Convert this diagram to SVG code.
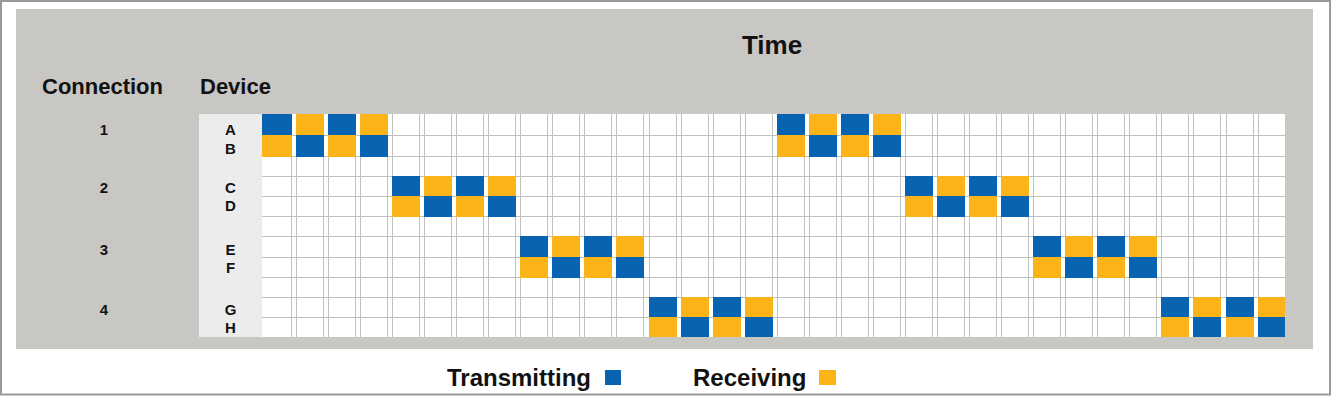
<svg xmlns="http://www.w3.org/2000/svg" width="1331" height="397" viewBox="0 0 1331 397">
<style>
text{font-family:"Liberation Sans",Arial,sans-serif;font-weight:bold;fill:#121212}
.hd{font-size:22px}
.lb{font-size:15px;text-anchor:middle}
.lg{font-size:24px}
.t{fill:#0864b1}
.r{fill:#fbb417}
.gl{stroke:#bfbfbf;stroke-width:1;fill:none}
</style>
<rect x="0" y="0" width="1331" height="397" fill="#ffffff"/>
<rect x="1" y="1" width="1329" height="393.5" fill="none" stroke="#9a9a9a" stroke-width="2"/>
<rect id="panel" x="16" y="9" width="1297" height="340" fill="#c9c7c3"/>
<g id="headers">
<text x="772" y="54" style="font-size:26px" text-anchor="middle">Time</text>
<text class="hd" x="42" y="94">Connection</text>
<text class="hd" x="200" y="94">Device</text>
</g>
<rect id="device-column" x="199" y="114" width="63" height="223" fill="#ececec"/>
<rect id="grid-bg" x="262" y="114" width="1023" height="223" fill="#ffffff"/>
<g id="grid-lines" class="gl">
<path d="M262 135.5H1285M262 156.5H1285M262 176.5H1285M262 196.5H1285M262 216.5H1285M262 236.5H1285M262 257.5H1285M262 277.5H1285M262 297.5H1285M262 317.5H1285"/>
<path d="M291.5 114V337M296.5 114V337M323.5 114V337M328.5 114V337M355.5 114V337M360.5 114V337M387.5 114V337M392.5 114V337M419.5 114V337M424.5 114V337M451.5 114V337M456.5 114V337M483.5 114V337M488.5 114V337M515.5 114V337M520.5 114V337M547.5 114V337M552.5 114V337M579.5 114V337M584.5 114V337M611.5 114V337M616.5 114V337M643.5 114V337M649.5 114V337M676.5 114V337M681.5 114V337M708.5 114V337M713.5 114V337M740.5 114V337M745.5 114V337M772.5 114V337M777.5 114V337M804.5 114V337M809.5 114V337M836.5 114V337M841.5 114V337M868.5 114V337M873.5 114V337M900.5 114V337M905.5 114V337M932.5 114V337M937.5 114V337M964.5 114V337M969.5 114V337M996.5 114V337M1001.5 114V337M1028.5 114V337M1033.5 114V337M1060.5 114V337M1065.5 114V337M1092.5 114V337M1097.5 114V337M1124.5 114V337M1129.5 114V337M1156.5 114V337M1161.5 114V337M1188.5 114V337M1193.5 114V337M1220.5 114V337M1226.5 114V337M1253.5 114V337M1258.5 114V337"/>
</g>
<g id="conn1">
<text class="lb" x="104" y="135">1</text>
<text class="lb" x="230.5" y="135">A</text>
<text class="lb" x="230.5" y="153.5">B</text>
<rect class="t" x="262" y="114" width="30" height="21"/><rect class="r" x="296" y="114" width="28" height="21"/><rect class="t" x="328" y="114" width="28" height="21"/><rect class="r" x="360" y="114" width="28" height="21"/>
<rect class="r" x="262" y="135" width="30" height="22"/><rect class="t" x="296" y="135" width="28" height="22"/><rect class="r" x="328" y="135" width="28" height="22"/><rect class="t" x="360" y="135" width="28" height="22"/>
<rect class="t" x="777" y="114" width="28" height="21"/><rect class="r" x="809" y="114" width="28" height="21"/><rect class="t" x="841" y="114" width="28" height="21"/><rect class="r" x="873" y="114" width="28" height="21"/>
<rect class="r" x="777" y="135" width="28" height="22"/><rect class="t" x="809" y="135" width="28" height="22"/><rect class="r" x="841" y="135" width="28" height="22"/><rect class="t" x="873" y="135" width="28" height="22"/>
</g>
<g id="conn2">
<text class="lb" x="104" y="192.5">2</text>
<text class="lb" x="230.5" y="192.5">C</text>
<text class="lb" x="230.5" y="210.5">D</text>
<rect class="t" x="392" y="176" width="28" height="20"/><rect class="r" x="424" y="176" width="28" height="20"/><rect class="t" x="456" y="176" width="28" height="20"/><rect class="r" x="488" y="176" width="28" height="20"/>
<rect class="r" x="392" y="196" width="28" height="21"/><rect class="t" x="424" y="196" width="28" height="21"/><rect class="r" x="456" y="196" width="28" height="21"/><rect class="t" x="488" y="196" width="28" height="21"/>
<rect class="t" x="905" y="176" width="28" height="20"/><rect class="r" x="937" y="176" width="28" height="20"/><rect class="t" x="969" y="176" width="28" height="20"/><rect class="r" x="1001" y="176" width="28" height="20"/>
<rect class="r" x="905" y="196" width="28" height="21"/><rect class="t" x="937" y="196" width="28" height="21"/><rect class="r" x="969" y="196" width="28" height="21"/><rect class="t" x="1001" y="196" width="28" height="21"/>
</g>
<g id="conn3">
<text class="lb" x="104" y="254.5">3</text>
<text class="lb" x="230.5" y="254.5">E</text>
<text class="lb" x="230.5" y="273">F</text>
<rect class="t" x="520" y="236" width="28" height="21"/><rect class="r" x="552" y="236" width="28" height="21"/><rect class="t" x="584" y="236" width="28" height="21"/><rect class="r" x="616" y="236" width="28" height="21"/>
<rect class="r" x="520" y="257" width="28" height="21"/><rect class="t" x="552" y="257" width="28" height="21"/><rect class="r" x="584" y="257" width="28" height="21"/><rect class="t" x="616" y="257" width="28" height="21"/>
<rect class="t" x="1033" y="236" width="28" height="21"/><rect class="r" x="1065" y="236" width="28" height="21"/><rect class="t" x="1097" y="236" width="28" height="21"/><rect class="r" x="1129" y="236" width="28" height="21"/>
<rect class="r" x="1033" y="257" width="28" height="21"/><rect class="t" x="1065" y="257" width="28" height="21"/><rect class="r" x="1097" y="257" width="28" height="21"/><rect class="t" x="1129" y="257" width="28" height="21"/>
</g>
<g id="conn4">
<text class="lb" x="104" y="314.5">4</text>
<text class="lb" x="230.5" y="314.5">G</text>
<text class="lb" x="230.5" y="333">H</text>
<rect class="t" x="649" y="297" width="28" height="20"/><rect class="r" x="681" y="297" width="28" height="20"/><rect class="t" x="713" y="297" width="28" height="20"/><rect class="r" x="745" y="297" width="28" height="20"/>
<rect class="r" x="649" y="317" width="28" height="20"/><rect class="t" x="681" y="317" width="28" height="20"/><rect class="r" x="713" y="317" width="28" height="20"/><rect class="t" x="745" y="317" width="28" height="20"/>
<rect class="t" x="1161" y="297" width="28" height="20"/><rect class="r" x="1193" y="297" width="28" height="20"/><rect class="t" x="1226" y="297" width="28" height="20"/><rect class="r" x="1258" y="297" width="27" height="20"/>
<rect class="r" x="1161" y="317" width="28" height="20"/><rect class="t" x="1193" y="317" width="28" height="20"/><rect class="r" x="1226" y="317" width="28" height="20"/><rect class="t" x="1258" y="317" width="27" height="20"/>
</g>
<g id="legend">
<text class="lg" x="447" y="386">Transmitting</text>
<rect class="t" x="605" y="370" width="16" height="15"/>
<text class="lg" x="693" y="386">Receiving</text>
<rect class="r" x="819" y="370" width="17" height="15"/>
</g>
</svg>
